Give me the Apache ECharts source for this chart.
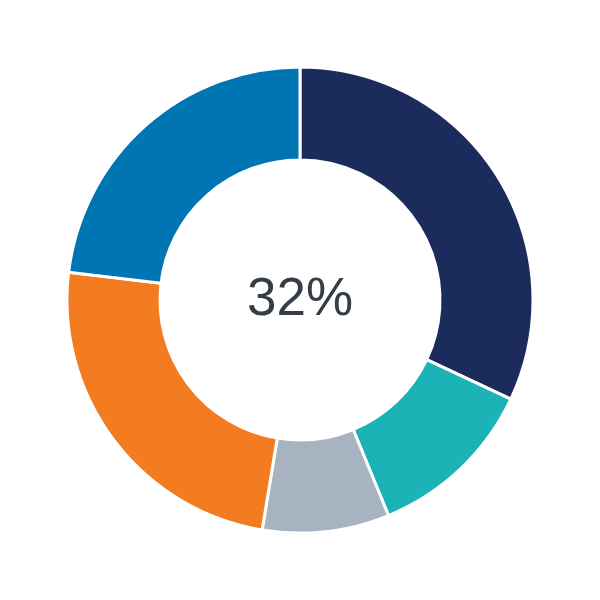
<!DOCTYPE html>
<html><head><meta charset="utf-8">
<script src="https://cdn.jsdelivr.net/npm/echarts@6/dist/echarts.min.js"></script>
<style>html,body{margin:0;padding:0;background:#fff}#c{width:600px;height:600px}</style>
</head><body><div id="c"></div>
<script>
const categories = ['A','B','C','D','E'];
const values = [32, 11.8, 8.8, 24.3, 23.1];
const colors = ['#1b2b5b','#1bb3b6','#a8b3c2','#f37b20','#0075b4'];
const centerLabel = '32%';
const chart = echarts.init(document.getElementById('c'));
chart.setOption({
  animation:false,
  title:{text:centerLabel,left:'center',top:'middle',textStyle:{fontFamily:'Liberation Sans, Arial',fontSize:53,fontWeight:'normal',color:'#363d47'}},
  series:[{
    type:'pie',
    center:['50%','50%'],
    radius:[140,233],
    startAngle:90,
    clockwise:true,
    label:{show:false},
    labelLine:{show:false},
    itemStyle:{borderColor:'#fff',borderWidth:3},
    data:categories.map((c,i)=>({name:c,value:values[i],itemStyle:{color:colors[i]}}))
  }]
});
</script></body></html>
